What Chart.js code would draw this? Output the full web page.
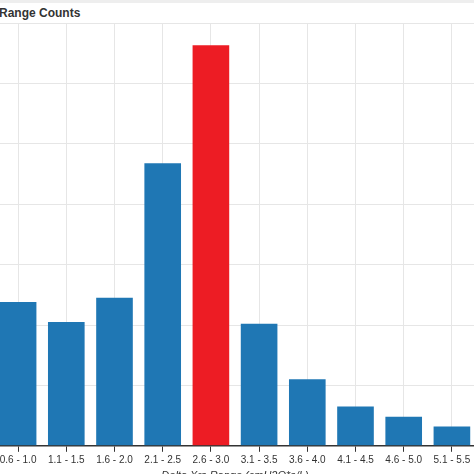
<!DOCTYPE html>
<html>
<head>
<script src="https://cdn.jsdelivr.net/npm/chart.js@4"></script>
<style>
  body { margin: 0; width: 474px; height: 474px; overflow: hidden; background: #fff; position: relative; font-family: Arial, "Liberation Sans", sans-serif; }
  #topline { position: absolute; left: 0; top: 0; width: 474px; height: 3px; background: #eee; }
  #title { position: absolute; left: -1px; top: 6px; font-size: 12px; font-weight: bold; color: #333; }
  #wrap { position: absolute; left: -6px; top: 17px; width: 482px; height: 470px; }
</style>
</head>
<body>
<div id="topline"></div>
<div id="title">Range Counts</div>
<div id="wrap"><canvas id="chart"></canvas></div>
<script>
const ranges = ['0.6 - 1.0', '1.1 - 1.5', '1.6 - 2.0', '2.1 - 2.5', '2.6 - 3.0', '3.1 - 3.5', '3.6 - 4.0', '4.1 - 4.5', '4.6 - 5.0', '5.1 - 5.5'];
const counts = [23.8, 20.5, 24.5, 46.8, 66.3, 20.2, 11, 6.5, 4.8, 3.2];
const highlightIndex = 4;

const barColors = counts.map((v, i) => i === highlightIndex ? '#ed1c24' : '#1f77b4');

new Chart(document.getElementById('chart'), {
  type: 'bar',
  data: {
    labels: ranges,
    datasets: [{
      data: counts,
      backgroundColor: barColors,
      categoryPercentage: 1,
      barPercentage: 0.76
    }]
  },
  options: {
    responsive: true,
    maintainAspectRatio: false,
    animation: false,
    layout: { padding: { top: 6 } },
    plugins: { legend: { display: false }, tooltip: { enabled: false } },
    scales: {
      x: {
        grid: { offset: false, color: '#e6e6e6', drawTicks: true, tickLength: 6, tickColor: '#333' },
        border: { color: '#333', width: 1.5 },
        ticks: { color: '#333', font: { size: 10 }, maxRotation: 0, autoSkip: false, padding: 2 },
        title: { display: true, text: 'Delta Xrs Range (cmH2O*s/L)', color: '#333', font: { size: 11, style: 'italic' }, padding: { top: 2 } }
      },
      y: {
        min: 0, max: 70,
        grid: { color: '#e6e6e6', drawTicks: false },
        border: { display: false },
        ticks: { display: false, stepSize: 10 }
      }
    }
  }
});
</script>
</body>
</html>
